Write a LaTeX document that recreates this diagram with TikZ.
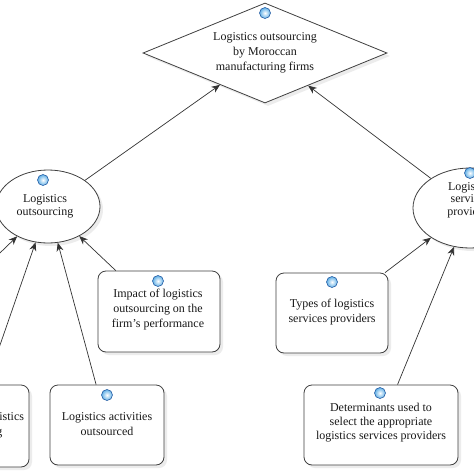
\documentclass[tikz,border=0pt]{standalone}
\usepackage{fontspec}
\setmainfont{Liberation Serif}
\usetikzlibrary{shapes.geometric,arrows.meta,shadows}
\definecolor{iconblue}{RGB}{95,175,230}
\definecolor{iconedge}{RGB}{40,95,165}
\begin{document}
\begin{tikzpicture}[x=1pt,y=-1pt,
  frame/.style={draw=black!75, line width=0.8pt, fill=white,
    drop shadow={opacity=0.15, shadow xshift=3pt, shadow yshift=-3pt}},
  boxst/.style={frame, rectangle, rounded corners=8pt, inner sep=0pt},
  ell/.style={frame, ellipse, inner sep=0pt},
  dia/.style={frame, diamond, inner sep=0pt},
  lbl/.style={align=center, font=\fontsize{12}{15}\selectfont, text=black!90, inner sep=0pt},
  icon/.style={circle, minimum size=11pt, inner sep=0pt, draw=iconedge, line width=0.6pt, inner color=white, outer color=iconblue},
  arr/.style={draw=black!80, line width=0.7pt, -{Stealth[length=8.5pt,width=7pt]}}]
\path[use as bounding box] (0,0) rectangle (474,474);
\clip (0,0) rectangle (474,474);
\fill[white] (0,0) rectangle (474,474);

% shapes
\node[dia, minimum width=244pt, minimum height=100pt] (dm) at (265,53) {};
\node[ell, minimum width=104pt, minimum height=73pt] (lo) at (48,206.5) {};
\node[ell, minimum width=114pt, minimum height=80pt] (ro) at (470,208) {};
\node[boxst, minimum width=122pt, minimum height=81pt] (imp) at (159,311.5) {};
\node[boxst, minimum width=112pt, minimum height=80pt] (typ) at (332,313) {};
\node[boxst, minimum width=114pt, minimum height=80pt] (act) at (107,425) {};
\node[boxst, minimum width=114pt, minimum height=82pt] (bl) at (-28,426) {};
\node[boxst, minimum width=154pt, minimum height=80pt] (det) at (381,425) {};
\coordinate (offl) at (-70,320.6);

% icons
\node[icon] (i1) at (265,13) {};
\node[icon] (i2) at (43,180) {};
\node[icon] (i3) at (470,173) {};
\node[icon] (i4) at (158,281) {};
\node[icon] (i5) at (332,282) {};
\node[icon] (i6) at (107,395) {};
\node[icon] (i7) at (-28,395) {};
\node[icon] (i8) at (380,393) {};

% texts
\node[lbl] (t1) at (265,53) {Logistics outsourcing\\by Moroccan\\manufacturing firms};
\node[lbl, font=\fontsize{12}{13}\selectfont] (t2) at (45,206.5) {Logistics\\outsourcing};
\node[lbl, font=\fontsize{12}{12.5}\selectfont] (t3) at (470,200) {Logistics\\services\\providers};
\node[lbl] (t4) at (158,310) {Impact of logistics\\outsourcing on the\\firm's performance};
\node[lbl] (t5) at (332,312.5) {Types of logistics\\services providers};
\node[lbl] (t6) at (107,424.5) {Logistics activities\\outsourced};
\node[lbl] (t7) at (-26,425.5) {Reasons for logistics\\outsourcing};
\node[lbl, font=\fontsize{12}{14}\selectfont] (t8) at (381,423) {Determinants used to\\select the appropriate\\logistics services providers};

% connectors
\draw[arr] (lo) -- (dm);
\draw[arr] (ro) -- (dm);
\draw[arr] (imp) -- (lo);
\draw[arr] (act) -- (lo);
\draw[arr] (bl) -- (lo);
\draw[arr] (offl) -- (lo);
\draw[arr] (typ) -- (ro);
\draw[arr] (det) -- (ro);
\end{tikzpicture}
\end{document}
